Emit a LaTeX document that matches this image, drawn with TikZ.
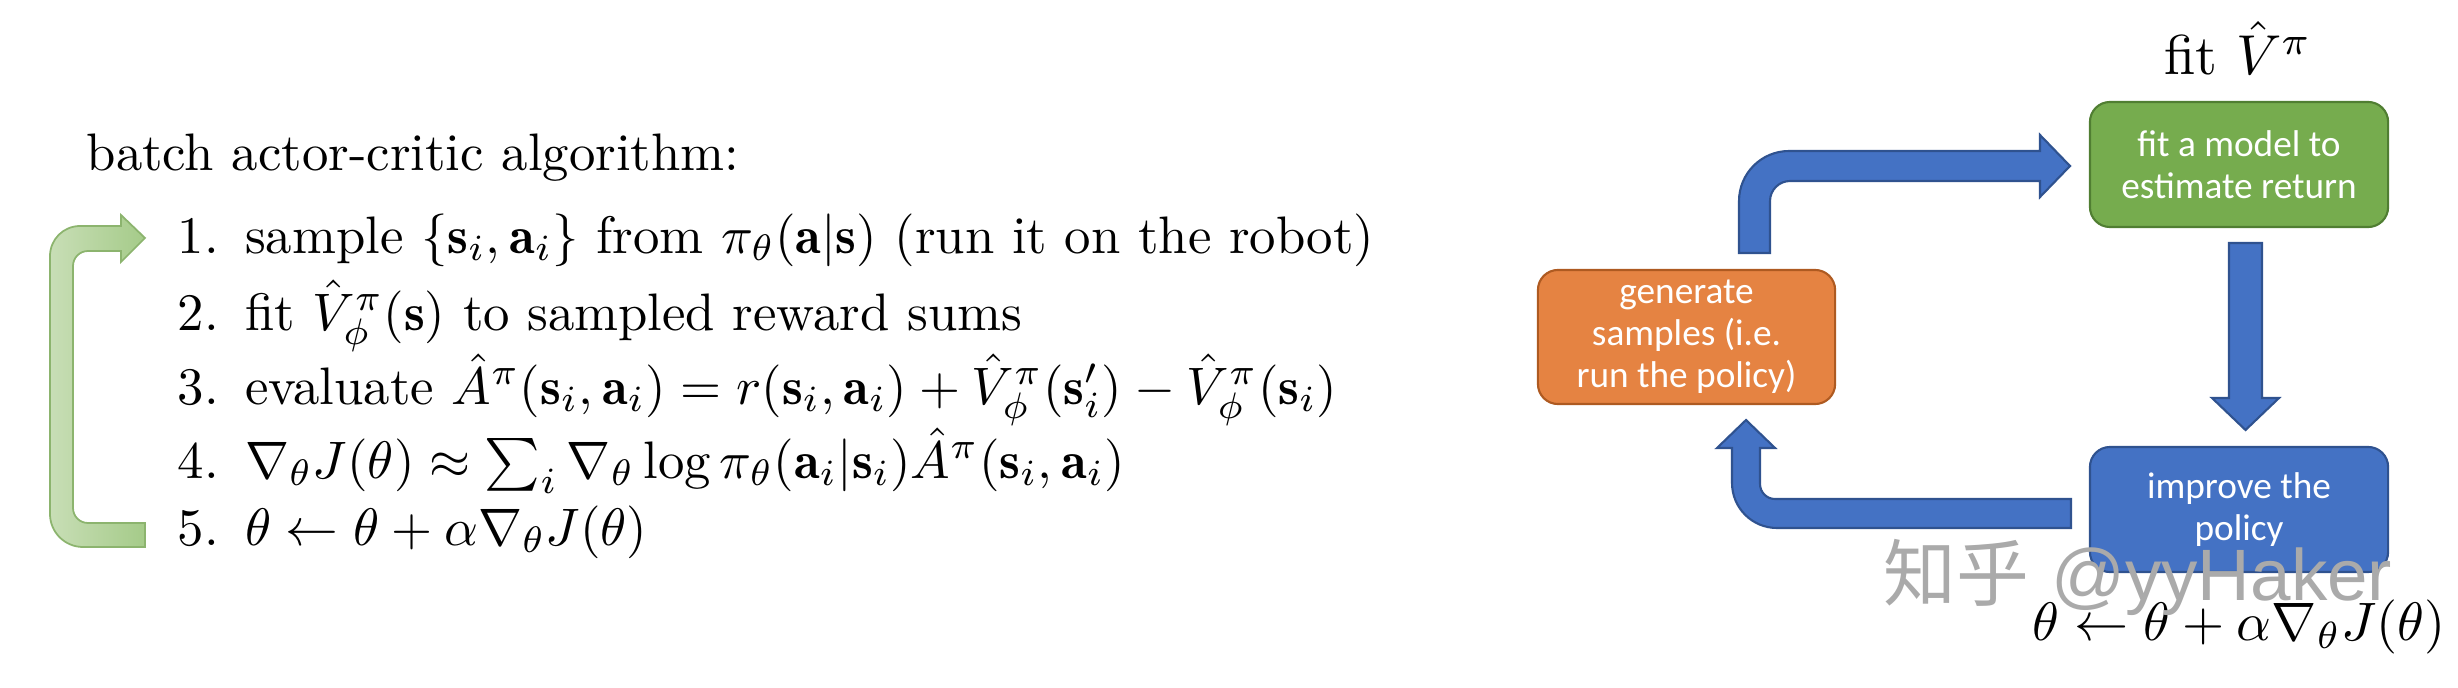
\documentclass[tikz,border=0pt]{standalone}
\usepackage{amsmath,amssymb,graphicx}
\usepackage{fontspec}
\newfontfamily\boxfont{Carlito}
\newfontfamily\cjkfont{Noto Sans CJK SC}
\newfontfamily\markfont{Liberation Sans}
\usetikzlibrary{positioning}

\definecolor{officeblue}{RGB}{68,114,196}
\definecolor{blueline}{RGB}{47,82,143}
\definecolor{officegreen}{RGB}{118,172,78}
\definecolor{greenline}{RGB}{80,126,50}
\definecolor{officeorange}{RGB}{229,131,66}
\definecolor{orangeline}{RGB}{174,90,33}
\definecolor{loopleft}{RGB}{200,222,182}
\definecolor{loopright}{RGB}{165,203,137}
\definecolor{loopline}{RGB}{140,180,110}
\definecolor{markgray}{RGB}{170,170,170}

% slide text is typeset at 10pt and blown up
\newcommand{\slidetext}[2][1.5]{\scalebox{#1}{#2}}

\tikzset{
  stage/.style={rectangle, rounded corners=0.2cm, line width=0.6pt, text=white, align=center,
    minimum width=2.98cm, minimum height=1.25cm, inner sep=0pt,
    font=\boxfont\fontsize{10.6}{12}\selectfont},
  bigarrow/.style={fill=officeblue, draw=blueline, line width=0.6pt},
  stepitem/.style={anchor=base west, inner sep=0pt},
}

\begin{document}
\begin{tikzpicture}[x=0.01cm,y=-0.01cm]
\useasboundingbox (0,0) rectangle (2458,688);

% Algorithm steps
\node[stepitem] (title) at (86,170) {\slidetext{batch actor-critic algorithm:}};
\node[stepitem] (s1) at (177,253) {\slidetext{1.\enspace sample $\{\mathbf{s}_i,\mathbf{a}_i\}$ from $\pi_\theta(\mathbf{a}|\mathbf{s})$ (run it on the robot)}};
\node[stepitem] (s2) at (177,330) {\slidetext{2.\enspace fit $\hat{V}^\pi_\phi(\mathbf{s})$ to sampled reward sums}};
\node[stepitem] (s3) at (177,404) {\slidetext{3.\enspace evaluate $\hat{A}^\pi(\mathbf{s}_i,\mathbf{a}_i)=r(\mathbf{s}_i,\mathbf{a}_i)+\hat{V}^\pi_\phi(\mathbf{s}'_i)-\hat{V}^\pi_\phi(\mathbf{s}_i)$}};
\node[stepitem] (s4) at (177,478) {\slidetext{4.\enspace $\nabla_\theta J(\theta)\approx\sum_i\nabla_\theta\log\pi_\theta(\mathbf{a}_i|\mathbf{s}_i)\hat{A}^\pi(\mathbf{s}_i,\mathbf{a}_i)$}};
\node[stepitem] (s5) at (177,545) {\slidetext{5.\enspace $\theta\leftarrow\theta+\alpha\nabla_\theta J(\theta)$}};

% Loop arrow
\draw[draw=loopline, line width=0.5pt, left color=loopleft, right color=loopright]
  (145,238) -- (121,262) -- (121,251) -- (88,251)
  .. controls (79.7,251) and (73,257.7) .. (73,266) -- (73,508)
  .. controls (73,516.3) and (79.7,523) .. (88,523) -- (145,523) -- (145,547) -- (83,547)
  .. controls (64.8,547) and (50,532.2) .. (50,514) -- (50,256)
  .. controls (50,239.4) and (63.4,226) .. (80,226) -- (121,226) -- (121,215) -- cycle;

% Cycle boxes
\node[stage, fill=officegreen, draw=greenline] (fit) at (2239,164.5) {fit a model to\\estimate return};
\node[stage, fill=officeorange, draw=orangeline, minimum width=2.97cm, minimum height=1.34cm] (gen) at (1686.5,337) {generate\\samples (i.e.\\run the policy)};
\node[stage, fill=officeblue, draw=blueline] (imp) at (2239,509.5) {improve the\\policy};

% Block arrows
\draw[bigarrow] (1739,253) -- (1739,201) .. controls (1739,173.4) and (1761.4,151) .. (1789,151)
  -- (2040,151) -- (2040,135) -- (2070,166) -- (2040,197) -- (2040,181) -- (1790,181)
  .. controls (1779,181) and (1770,190) .. (1770,201) -- (1770,253) -- cycle;
\draw[bigarrow] (2229,243) -- (2229,398) -- (2212,398) -- (2245.5,430) -- (2279,398) -- (2262,398) -- (2262,243) -- cycle;
\draw[bigarrow] (2071,499) -- (1775,499) .. controls (1766.7,499) and (1760,492.3) .. (1760,484)
  -- (1760,448) -- (1775,448) -- (1746,420) -- (1717,448) -- (1732,448) -- (1732,483)
  .. controls (1732,507.9) and (1752.1,528) .. (1777,528) -- (2071,528) -- cycle;

% Labels
\node[anchor=base, inner sep=0pt] (fitlabel) at (2238,75) {\slidetext[1.6]{fit $\hat{V}^\pi$}};
\node[anchor=base, inner sep=0pt] (update) at (2239,640) {\slidetext[1.54]{$\theta\leftarrow\theta+\alpha\nabla_\theta J(\theta)$}};

% Watermark
\node[anchor=base west, inner sep=0pt, text=markgray, font=\fontsize{20.7}{24}\selectfont] (mark) at (1883,600) {{\cjkfont 知乎} {\markfont @yyHaker}};

\end{tikzpicture}
\end{document}
